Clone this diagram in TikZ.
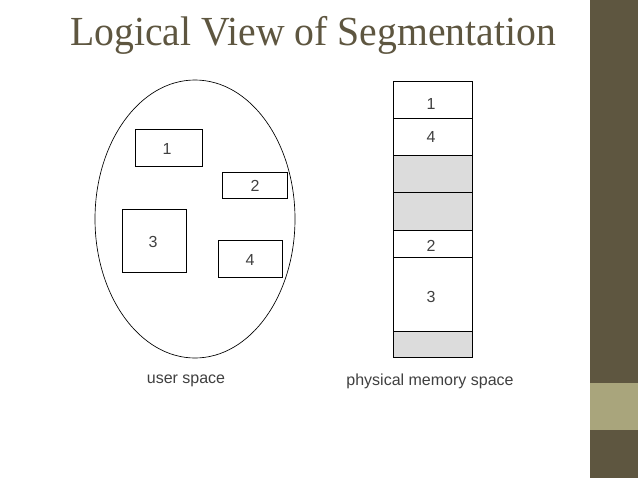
\documentclass[tikz,border=0pt]{standalone}
\usepackage{fontspec}
\setmainfont{Liberation Sans}
\newfontfamily\titlefont{Liberation Serif}
\definecolor{olive}{HTML}{5E5640}
\definecolor{barlight}{HTML}{A9A57C}
\definecolor{cellgray}{HTML}{DCDCDC}
\begin{document}
\begin{tikzpicture}[x=0.75pt,y=-0.75pt,
  seg/.style={draw=black,line width=0.5pt,fill=white},
  lab/.style={font=\fontsize{12}{14}\selectfont,text=black!75}]
\useasboundingbox (0,0) rectangle (638,478);
\fill[white] (0,0) rectangle (638,478);
\fill[olive] (590,0) rectangle (638,478);
\fill[barlight] (590,383) rectangle (638,430);
\node[anchor=west,text=olive,font=\titlefont\fontsize{31}{34}\selectfont,inner sep=0pt] (title) at (70,35) {\scalebox{0.96}[1]{Logical View of Segmentation}};
% user space
\draw[line width=0.5pt] (195,219) ellipse [x radius=100, y radius=139];
\node[seg,minimum width=67*0.75pt,minimum height=37*0.75pt,anchor=north west] (u1) at (135,129) {};
\node[lab] at (167,149) {1};
\node[seg,minimum width=65*0.75pt,minimum height=26*0.75pt,anchor=north west] (u2) at (222,172) {};
\node[lab] at (255,186) {2};
\node[seg,minimum width=64*0.75pt,minimum height=63*0.75pt,anchor=north west] (u3) at (122,209) {};
\node[lab] at (153,242) {3};
\node[seg,minimum width=64*0.75pt,minimum height=37*0.75pt,anchor=north west] (u4) at (218,240) {};
\node[lab] at (250,260) {4};
% memory
\draw[line width=0.5pt] (393,81) rectangle (472,118);
\draw[line width=0.5pt] (393,118) rectangle (472,155);
\draw[line width=0.5pt,fill=cellgray] (393,155) rectangle (472,192);
\draw[line width=0.5pt,fill=cellgray] (393,192) rectangle (472,230);
\draw[line width=0.5pt] (393,230) rectangle (472,257);
\draw[line width=0.5pt] (393,257) rectangle (472,331);
\draw[line width=0.5pt,fill=cellgray] (393,331) rectangle (472,357);
\node[lab] (m1) at (431,104) {1};
\node[lab] (m4) at (431,137) {4};
\node[lab] (m2) at (431,246) {2};
\node[lab] (m3) at (431,297) {3};
\node[lab] (us) at (186,381) {user space};
\node[lab] (pm) at (430,381) {physical memory space};
\end{tikzpicture}
\end{document}
